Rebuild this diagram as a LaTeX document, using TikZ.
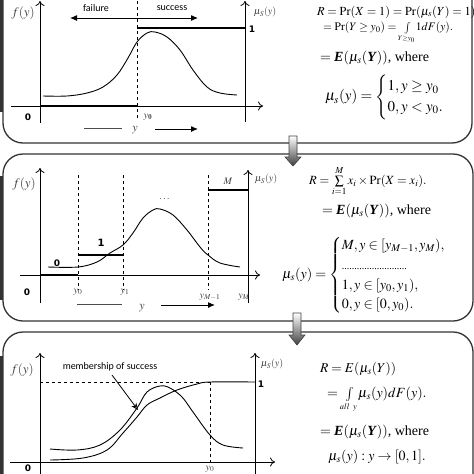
\documentclass[tikz,border=0pt]{standalone}
\usepackage{mathptmx}
\usepackage{amsmath}
\usepackage[no-math]{fontspec}
\setmainfont{Liberation Serif}
\newfontfamily\labelfont{Carlito}
\newfontfamily\digitfont{DejaVu Sans}
\usetikzlibrary{arrows.meta}
\def\bmi#1{\textbf{\textit{#1}}}
\tikzset{
	axis/.style={line width=0.8pt, -{To[length=5pt,width=9pt]}},
	guide/.style={dashed, line width=0.8pt},
	level/.style={line width=1.6pt},
	density/.style={line width=0.9pt},
	panel/.style={rounded corners=20pt, line width=1.3pt, draw=black!80},
	panelshade/.style={line width=2.6pt, black!80},
	flowarrow/.style={top color=white, bottom color=black!75, draw=black!75, line width=0.6pt},
	lbl/.style={font=\labelfont\fontsize{10}{12}\selectfont, inner sep=1pt},
	num/.style={font=\digitfont\bfseries\fontsize{9}{10}\selectfont, inner sep=1pt},
	axlbl/.style={text=black!75, inner sep=1pt, font=\fontsize{10}{12}\selectfont},
	eq/.style={anchor=west, inner sep=0pt, font=\fontsize{12.5}{14}\selectfont},
}

\begin{document}
\begin{tikzpicture}[x=1pt, y=-1pt]
	%%%%% START %%%%%
	\useasboundingbox (0,0) rectangle (474,474);
	\clip (0,0) rectangle (474,474);
	
	%% panels
	\draw[panel] (3,-30) rectangle (472,143);
	\draw[panel] (3,154) rectangle (473,321);
	\draw[panel] (3,332) rectangle (473,520);
	\draw[panelshade] (1.3,0) -- (1.3,112);
	\draw[panelshade] (1.3,176) -- (1.3,300);
	\draw[panelshade] (1.3,356) -- (1.3,474);
	
	\shade[flowarrow] (289,136) -- (297,136) -- (297,157) -- (301,157) -- (293,166) -- (285,157) -- (289,157) -- cycle;
	\shade[flowarrow] (293,313) -- (301,313) -- (301,335) -- (305,335) -- (297,345) -- (289,335) -- (293,335) -- cycle;
	
	%% panel 1: binary state
	\draw[axis] (11,106) -- (263,106);
	\draw[axis] (40,123) -- (40,1);
	\draw[axis] (245,122) -- (245,1);
	\draw[guide] (137,-5) -- (137,120);
	\draw[level] (40,106) -- (137,106);
	\draw[line width=1.2pt] (137,28) -- (245,28);
	\draw[density] plot[smooth, tension=0.6] coordinates {(43,96) (67,96) (87,93) (103,87) (117,75) (128,58) (137,42) (147,33) (155,32) (167,37) (180,50) (193,70) (207,87) (220,93) (237,95)};
	
	\node[lbl] (fail) at (96,8) {failure};
	\node[lbl] (succ) at (172,8) {success};
	\coordinate (failend) at (70,18);
	\coordinate (succend) at (198,18);
	\draw[line width=1pt, {Latex[length=7pt,width=6pt]}-{Latex[length=7pt,width=6pt]}] (failend) -- (succend);
	
	\node[axlbl, font=\fontsize{13}{14}\selectfont] (fy1) at (23,13) {$f(y)$};
	\node[axlbl] (mu1) at (265,12) {$\mu_S(y)$};
	\node[num] (one1) at (252,29) {1};
	\node[num] (zero1) at (28,117) {0};
	\node[axlbl] (ynot1) at (148,117) {$y_{\mathbf{0}}$};
	\node[axlbl, font=\fontsize{12}{14}\selectfont] (ydir1) at (135,130) {$y$};
	\coordinate (ydirl1) at (84,128);
	\coordinate (ydirr1) at (198,129);
	\draw[line width=0.6pt, black!70] (ydirl1) -- (122,128);
	\draw[line width=1pt, -{Latex[length=7pt,width=6pt]}] (155,129) -- (ydirr1);
	
	\node[eq, font=\fontsize{12.3}{14}\selectfont] (rdef1) at (317,12) {$R=\Pr(X=1)=\Pr(\mu_s(Y)=1)$};
	\node[eq, font=\fontsize{11.5}{13}\selectfont] (rint1) at (323,33) {$=\Pr(Y\geq y_0)=\int\limits_{\scriptscriptstyle Y\geq y_0}\!1dF(y).$};
	\node[eq, font=\fontsize{14}{16}\selectfont] (rexp1) at (320,58) {$=\bmi{E}(\mu_s(\bmi{Y}))$, where};
	\node[eq, font=\fontsize{15}{17}\selectfont] (mudef1) at (325,97) {$\mu_s(y)=\begin{cases}1, y\geq y_0\\0, y<y_0.\end{cases}$};
	
	%% panel 2: multi state
	\draw[axis] (20,275) -- (260,275);
	\draw[axis] (40,303) -- (40,168);
	\draw[axis] (248,303) -- (248,170);
	\draw[guide] (78,175) -- (78,290);
	\draw[guide] (123,175) -- (123,290);
	\draw[guide] (208,175) -- (208,290);
	\draw[level] (40,275) -- (78,275);
	\draw[level] (78,255) -- (123,255);
	\draw[level] (208,190) -- (248,190);
	\draw[density] plot[smooth, tension=0.6] coordinates {(48,267) (78,267) (97,262) (110,253) (123,245) (133,233) (143,218) (153,210) (160,209) (173,215) (187,230) (200,247) (208,255) (220,263) (240,267)};
	
	\node[num] (zero2) at (57,263) {0};
	\node[num, font=\digitfont\bfseries\fontsize{10}{11}\selectfont] (one2) at (101,243) {1};
	\node[axlbl] (dots2) at (165,199) {$\cdots$};
	\node[axlbl] (m2) at (228,181) {$M$};
	\node[axlbl, font=\fontsize{13}{14}\selectfont] (fy2) at (24,184) {$f(y)$};
	\node[axlbl] (mu2) at (266,179) {$\mu_S(y)$};
	\node[num] (zero2b) at (27,292) {0};
	\node[axlbl] (ynot2) at (78,292) {$y_0$};
	\node[axlbl] (yone2) at (125,292) {$y_1$};
	\node[axlbl] (ymm2) at (210,297) {$y_{M-1}$};
	\node[axlbl] (ym2) at (244,297) {$y_M$};
	\node[axlbl, font=\fontsize{12}{14}\selectfont] (ydir2) at (142,308) {$y$};
	\coordinate (ydirl2) at (77,304);
	\coordinate (ydirr2) at (215,305);
	\draw[line width=0.6pt, black!70] (ydirl2) -- (122,304);
	\draw[line width=1pt, -{Latex[length=7pt,width=6pt]}] (161,305) -- (ydirr2);
	
	\node[eq] (rdef2) at (309,181) {$R=\sum\limits_{i=1}^{M}x_i\times\Pr(X=x_i).$};
	\node[eq, font=\fontsize{14}{16}\selectfont] (rexp2) at (322,211) {$=\bmi{E}(\mu_s(\bmi{Y}))$, where};
	\node[eq, font=\fontsize{14}{16}\selectfont] (mudef2) at (282,275) {$\mu_s(y)=\begin{cases}M, y\in[y_{M-1},y_M),\\[1pt] \mbox{\fontsize{10}{10}\selectfont..........................}\\[1pt] 1, y\in[y_0,y_1),\\ 0, y\in[0,y_0).\end{cases}$};
	
	%% panel 3: fuzzy state
	\draw[axis] (10,462) -- (275,462);
	\draw[axis] (40,490) -- (40,353);
	\draw[axis] (255,490) -- (255,353);
	\draw[guide] (40,382) -- (210,382);
	\draw[guide] (210,382) -- (210,462);
	\draw[density] plot[smooth, tension=0.6] coordinates {(50,449) (77,450) (100,445) (120,430) (137,408) (147,392) (160,386) (170,388) (182,397) (193,412) (210,435) (223,445) (243,448)};
	\draw[density] plot[smooth, tension=0.6] coordinates {(50,460) (83,458) (107,450) (123,433) (137,417) (147,405) (160,398) (177,390) (197,384) (210,382) (255,382)};
	
	\node[lbl] (memb) at (110,367) {membership of success};
	\coordinate (membtip) at (138,410);
	\draw[line width=0.8pt, -{Stealth[length=7pt,width=6pt,open]}] (112,375) -- (membtip);
	
	\node[axlbl, font=\fontsize{13}{14}\selectfont] (fy3) at (22,370) {$f(y)$};
	\node[axlbl] (mu3) at (272,364) {$\mu_S(y)$};
	\node[num] (one3) at (261,384) {1};
	\node[num] (zero3) at (28,468) {0};
	\node[axlbl] (ynot3) at (210,469) {$y_0$};
	
	\node[eq, font=\fontsize{13.5}{15}\selectfont] (rdef3) at (320,369) {$R=E(\mu_s(Y))$};
	\node[eq, font=\fontsize{14}{16}\selectfont] (rint3) at (327,400) {$=\int\limits_{\scriptscriptstyle all\ y}\!\mu_s(y)dF(y).$};
	\node[eq, font=\fontsize{14}{16}\selectfont] (rexp3) at (320,432) {$=\bmi{E}(\mu_s(\bmi{Y}))$, where};
	\node[eq, font=\fontsize{14}{16}\selectfont] (mudef3) at (328,457) {$\mu_s(y):y\rightarrow[0,1].$};
	
	%%%%% END %%%%%
\end{tikzpicture}
\end{document}
